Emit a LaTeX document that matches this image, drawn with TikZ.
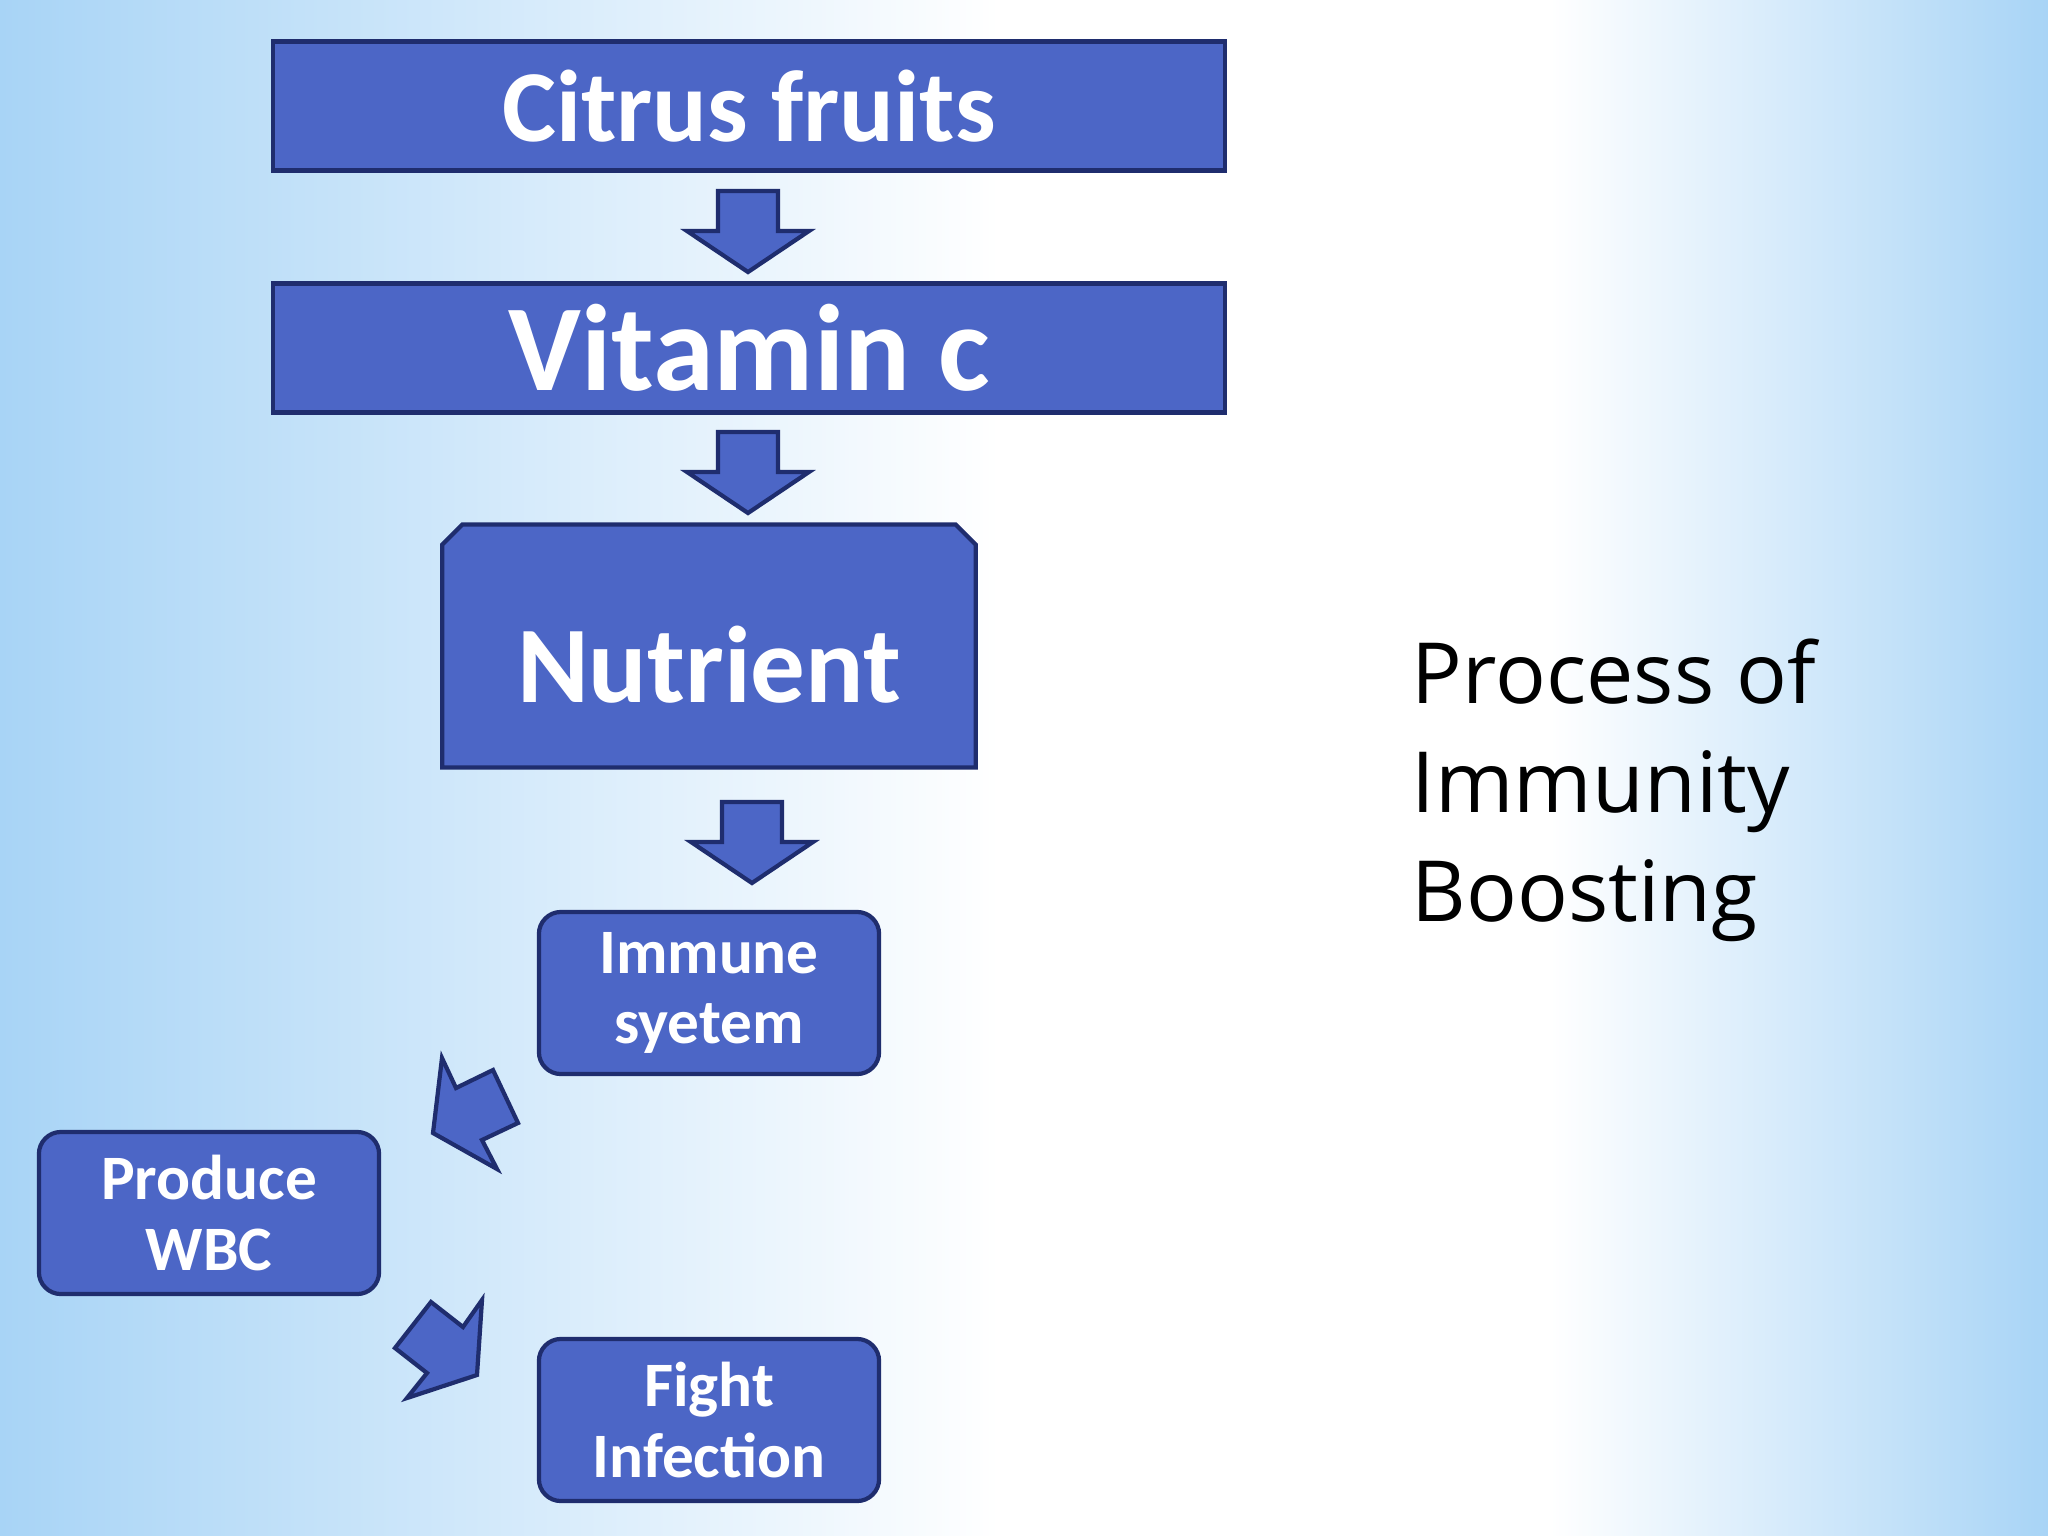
\documentclass[tikz,border=0pt]{standalone}
\usepackage{fontspec}
\setmainfont{Carlito}
\newfontfamily\sidefont{Open Sans}
\usetikzlibrary{shapes.misc}
\definecolor{boxfill}{HTML}{4C66C6}
\definecolor{boxline}{HTML}{1F2D6E}
\definecolor{skyblue}{HTML}{A8D4F6}
\begin{document}
\begin{tikzpicture}[x=0.01cm, y=-0.01cm, line width=1.2pt,
    main/.style = {draw=boxline, fill=boxfill, text=white, font=\bfseries, inner sep=0pt},
    bar/.style = {main, rectangle, minimum width=9.52cm, minimum height=1.29cm},
    small/.style = {main, rounded corners=0.22cm, minimum width=3.4cm, minimum height=1.62cm,
        align=center, font=\bfseries\fontsize{18}{20}\selectfont},
    blockarrow/.style = {draw=boxline, fill=boxfill, line join=miter}]
    % background
    \shade[left color=skyblue, right color=white] (0,0) rectangle (1000,1536);
    \fill[white] (1000,0) rectangle (1550,1536);
    \shade[left color=white, right color=skyblue] (1550,0) rectangle (2048,1536);
    \useasboundingbox (0,0) rectangle (2048,1536);

    \node[bar, font=\bfseries\fontsize{29}{32}\selectfont] (citrus) at (749,106) {Citrus fruits};
    \node[bar, font=\bfseries\fontsize{35}{38}\selectfont] (vitc) at (749,348) {Vitamin c};
    \node[main, chamfered rectangle, chamfered rectangle corners={north west, north east},
        chamfered rectangle xsep=0.2cm, chamfered rectangle ysep=0.2cm,
        minimum width=5.33cm, minimum height=2.43cm,
        font=\bfseries\fontsize{31}{34}\selectfont] (nutrient) at (709,646)
        {\raisebox{-0.56cm}[0pt][0pt]{Nutrient}};
    \node[small] (immune) at (709,993) {Immune\\syetem};
    \node[small] (wbc) at (209,1213) {Produce\\WBC};
    \node[small] (fight) at (709,1420) {Fight\\Infection};

    \node[anchor=north west, align=left, font=\sidefont\fontsize{24}{31}\selectfont] (title) at (1398,625)
        {Process of\\Immunity\\Boosting};

    % arrows between the boxes
    \foreach \x/\y in {748/191, 748/432, 752/802}
        \draw[blockarrow] (\x-30,\y) -- (\x+30,\y) -- (\x+30,\y+40) -- (\x+61,\y+40)
            -- (\x,\y+81) -- (\x-61,\y+40) -- (\x-30,\y+40) -- cycle;
    \draw[blockarrow] (442,1058) -- (456,1088) -- (493,1070) -- (518,1123) -- (482,1140)
        -- (497,1169) -- (433,1133) -- cycle;
    \draw[blockarrow] (431,1302) -- (463,1327) -- (482,1300) -- (477,1375) -- (407,1398)
        -- (427,1373) -- (395,1348) -- cycle;
\end{tikzpicture}
\end{document}
